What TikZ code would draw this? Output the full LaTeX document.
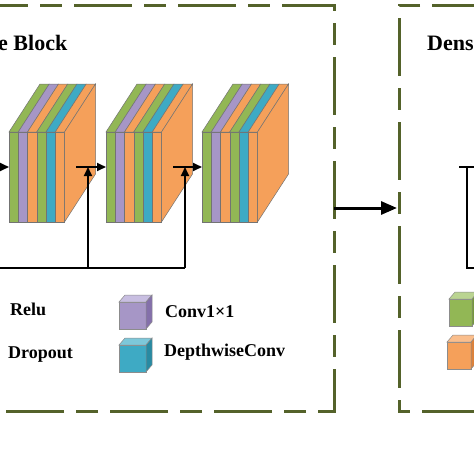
\documentclass[tikz,border=0pt]{standalone}
\usepackage{fontspec}
\setmainfont{Liberation Serif}
\usetikzlibrary{arrows.meta}
\definecolor{cgreen}{RGB}{146,183,85}
\definecolor{cgreenT}{RGB}{186,212,145}
\definecolor{cgreenS}{RGB}{118,152,62}
\definecolor{cpurple}{RGB}{166,150,198}
\definecolor{cpurpleT}{RGB}{200,190,225}
\definecolor{cpurpleS}{RGB}{132,112,170}
\definecolor{corange}{RGB}{245,160,90}
\definecolor{corangeT}{RGB}{250,190,140}
\definecolor{corangeS}{RGB}{220,130,60}
\definecolor{cblue}{RGB}{62,170,196}
\definecolor{cblueT}{RGB}{125,200,218}
\definecolor{cblueS}{RGB}{40,138,162}
\definecolor{boxgreen}{RGB}{84,98,42}
\newcommand\mycube[6]{%
  \filldraw[fill=#4,cubeedge] (#1,#2) rectangle ++(#3,27);
  \filldraw[fill=#5,cubeedge] (#1,#2) -- ++(6,-7) -- ++(#3,0) -- ++(-6,7) -- cycle;
  \filldraw[fill=#6,cubeedge] (#1+#3,#2) -- ++(6,-7) -- ++(0,27) -- ++(-6,7) -- cycle;
}
\begin{document}
\begin{tikzpicture}[x=1pt,y=-1pt,
  stripe/.style={draw=black!55, line width=0.5pt},
  cubeedge/.style={draw=black!45, line width=0.5pt},
  dbox/.style={draw=boxgreen, line width=3pt, dash pattern=on 58pt off 12pt on 22pt off 12pt},
  conn/.style={draw=black, line width=1.8pt},
  arr/.style={conn, -{Triangle[length=9pt,width=8pt]}},
  bigarr/.style={draw=black, line width=3pt, -{Triangle[length=16pt,width=13pt]}},
  title/.style={font=\fontsize{22}{26}\selectfont\bfseries, inner sep=0pt, anchor=base west},
  lab/.style={font=\fontsize{18}{22}\selectfont\bfseries, inner sep=0pt, anchor=base west}]
\useasboundingbox (0,0) rectangle (474,474);
\clip (0,0) rectangle (474,474);
\fill[white] (0,0) rectangle (474,474);

% dashed boxes
\draw[dbox] (-30,5) -- (334,5) -- (334,411) -- (-30,411);
\draw[dbox] (490,5) -- (399,5) -- (399,411) -- (490,411);

% titles
\node[title] (t1) at (-2,50) {e Block};
\node[title] (t2) at (427,50) {Dens};

% feature blocks
\foreach \bx [count=\bi] in {9,106,202} {
  \foreach \c [count=\i from 0] in {cgreen,cpurple,corange,cgreen,cblue,corange} {
    \pgfmathsetmacro\xa{\bx+\i*9.25}
    \pgfmathsetmacro\xb{\bx+(\i+1)*9.25}
    \filldraw[fill=\c, stripe] (\xa,132) rectangle (\xb,222);
    \filldraw[fill=\c, stripe] (\xa,132) -- (\xa+31,84) -- (\xb+31,84) -- (\xb,132) -- cycle;
  }
  \filldraw[fill=corange, stripe] (\bx+55.5,132) -- (\bx+86.5,84) -- (\bx+86.5,174) -- (\bx+55.5,222) -- cycle;
  \coordinate (bw\bi) at (\bx,167);
}

% connectors in left box
\coordinate (in0) at (-5,167);
\coordinate (j1) at (76,167);
\coordinate (j2) at (173,167);
\coordinate (t1a) at (88,167);
\coordinate (t2a) at (185,167);
\coordinate (c0) at (-5,268);
\coordinate (c1) at (88,268);
\coordinate (c2) at (185,268);
\draw[arr] (in0) -- (bw1);
\draw[arr] (j1) -- (bw2);
\draw[arr] (j2) -- (bw3);
\draw[conn] (c0) -- (c2);
\draw[arr] (c1) -- (t1a);
\draw[arr] (c2) -- (t2a);

% arrow between boxes
\coordinate (bl) at (334,208);
\coordinate (br) at (397,208);
\draw[bigarr] (bl) -- (br);

% right box connectors
\coordinate (r1) at (459,167);
\coordinate (r2) at (480,167);
\coordinate (r3) at (467,167);
\coordinate (r4) at (467,268);
\coordinate (r5) at (480,268);
\draw[conn] (r1) -- (r2);
\draw[conn] (r3) -- (r4) -- (r5);

% legend
\mycube{119}{302}{27}{cpurple}{cpurpleT}{cpurpleS}
\mycube{119}{345}{27}{cblue}{cblueT}{cblueS}
\mycube{449}{299}{23}{cgreen}{cgreenT}{cgreenS}
\mycube{447}{342}{24}{corange}{corangeT}{corangeS}
\node[lab] (relu) at (10,315) {Relu};
\node[lab] (drop) at (8,358) {Dropout};
\node[lab] (conv) at (165,317) {Conv1×1};
\node[lab] (dw) at (164,356) {DepthwiseConv};
\end{tikzpicture}
\end{document}
